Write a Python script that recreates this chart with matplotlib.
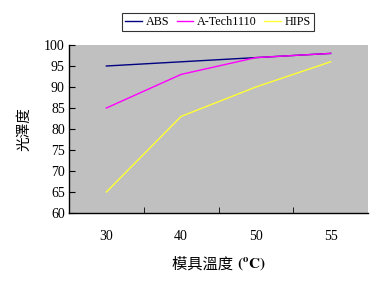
import matplotlib
matplotlib.use("Agg")
import matplotlib.pyplot as plt

temps = ["30", "40", "50", "55"]
abs_vals = [95, 96, 97, 98]
atech_vals = [85, 93, 97, 98]
hips_vals = [65, 83, 90, 96]

plt.rcParams["font.family"] = ["Liberation Serif", "Noto Sans CJK TC"]
plt.rcParams["mathtext.fontset"] = "stix"

fig = plt.figure(figsize=(3.81, 2.87), dpi=100)
ax = fig.add_axes([69 / 381, 1 - 213 / 287, 299 / 381, 168 / 287])
ax.set_facecolor("#c0c0c0")

x = range(len(temps))
ax.plot(x, abs_vals, color="#000080", lw=1.0, label="ABS")
ax.plot(x, atech_vals, color="#ff00ff", lw=1.0, label="A-Tech1110")
ax.plot(x, hips_vals, color="#ffff33", lw=1.0, label="HIPS")

ax.set_xlim(-0.5, 3.5)
ax.set_ylim(60, 100)
ax.set_yticks(range(60, 101, 5))
ax.set_xticks(list(x))
ax.set_xticklabels(temps)
ax.set_xticks([0.5, 1.5, 2.5], minor=True)
ax.tick_params(axis="x", which="major", length=0, pad=12, labelsize=10)
ax.tick_params(axis="x", which="minor", direction="in", length=4)
ax.tick_params(axis="y", direction="in", length=4, labelsize=10, pad=3)
for s in ["top", "right"]:
    ax.spines[s].set_visible(False)
for s in ["left", "bottom"]:
    ax.spines[s].set_linewidth(1.0)

ax.set_ylabel("光澤度", fontsize=10.5, family=["Noto Sans CJK TC"], labelpad=9)

# x label: Chinese part plus bold (oC)
fig.text(236 / 381, 1 - 264 / 287, "模具溫度 ", fontsize=11,
         family=["Noto Sans CJK TC"], ha="right", va="center")
fig.text(237 / 381, 1 - 264 / 287, "$\\mathbf{(^{o}C)}$", fontsize=11,
         ha="left", va="center")

leg = fig.legend(loc="upper center", bbox_to_anchor=(218 / 381, 1 - 7 / 287), ncol=3,
                 fontsize=8.7, frameon=True, fancybox=False, handlelength=1.4,
                 handletextpad=0.3, columnspacing=0.6, borderpad=0.25)
leg.get_frame().set_edgecolor("black")
leg.get_frame().set_linewidth(0.8)

fig.savefig("out.png", dpi=100)
